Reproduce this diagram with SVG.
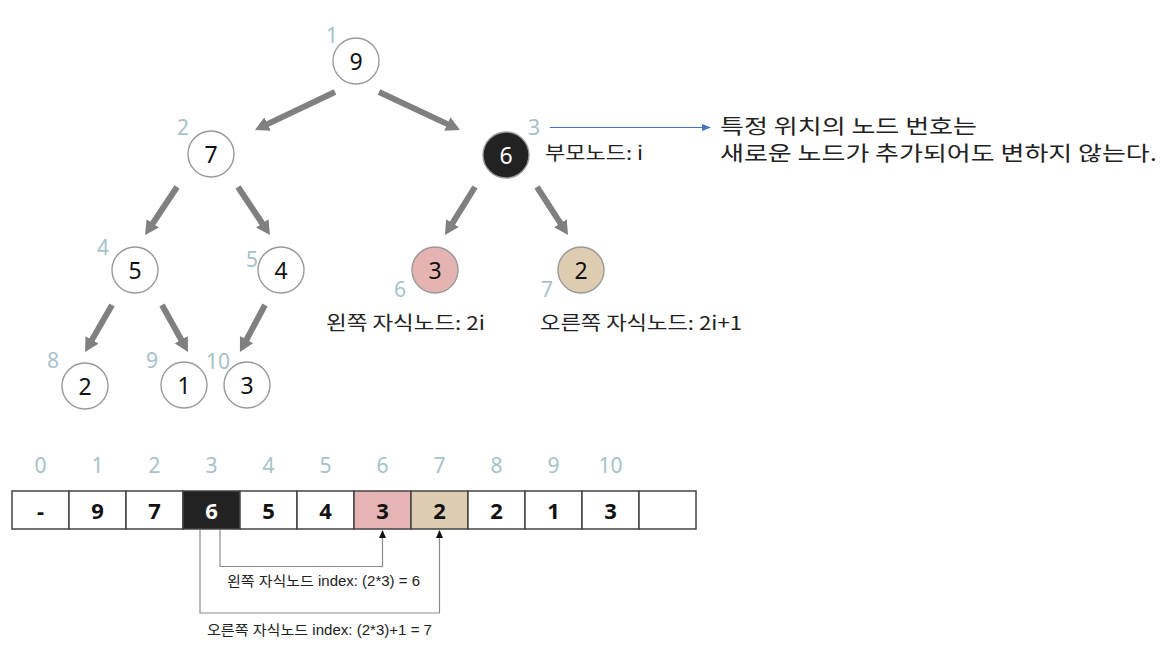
<svg xmlns="http://www.w3.org/2000/svg" width="1166" height="668" viewBox="0 0 1166 668">
<style>
.node{fill:#ffffff;stroke:#9a9a9a;stroke-width:1.4}
.nv{font-family:"Noto Sans","Open Sans",sans-serif;font-size:23px;fill:#111;text-anchor:middle}
.idx{font-family:"Noto Sans","Open Sans",sans-serif;font-size:21px;fill:#a5c3c9;text-anchor:middle}
.ko{font-family:"Noto Sans CJK KR","Noto Sans",sans-serif;fill:#222}
.sm{font-family:"Liberation Sans","Noto Sans CJK KR",sans-serif;font-size:14px;fill:#222}
.cell{fill:#ffffff;stroke:#444;stroke-width:1.5}
.cv{font-family:"Noto Sans","Open Sans",sans-serif;font-size:22px;font-weight:bold;fill:#111;text-anchor:middle}
.thick{stroke:#808080;stroke-width:6;fill:none;marker-end:url(#big)}
.thin{stroke:#8c8c8c;stroke-width:1.2;fill:none;marker-end:url(#small)}
</style>
<defs>
<marker id="big" markerUnits="userSpaceOnUse" markerWidth="15" markerHeight="15" refX="2" refY="7.5" orient="auto">
<path d="M0,0 L14,7.5 L0,15 z" fill="#808080"/>
</marker>
<marker id="small" markerUnits="userSpaceOnUse" markerWidth="8" markerHeight="8" refX="7" refY="3.5" orient="auto">
<path d="M0,0 L8,3.5 L0,7 z" fill="#111"/>
</marker>
<marker id="blue" markerUnits="userSpaceOnUse" markerWidth="9" markerHeight="8" refX="8" refY="3.5" orient="auto">
<path d="M0,0 L9,3.5 L0,7 z" fill="#4472c4"/>
</marker>
</defs>
<rect width="1166" height="668" fill="#ffffff"/>

<g id="connectors">
<line class="thick" x1="335" y1="92" x2="265.8" y2="124.9"/>
<line class="thick" x1="379" y1="92" x2="449.1" y2="124.9"/>
<line class="thick" x1="177" y1="187" x2="151.7" y2="225"/>
<line class="thick" x1="238" y1="187" x2="263.3" y2="225"/>
<line class="thick" x1="475" y1="187" x2="451.4" y2="224.8"/>
<line class="thick" x1="537" y1="187" x2="561.5" y2="224.9"/>
<line class="thick" x1="112" y1="305" x2="91" y2="341.6"/>
<line class="thick" x1="162" y1="305" x2="182.2" y2="341.5"/>
<line class="thick" x1="265" y1="305" x2="245.6" y2="341.4"/>
<line x1="550" y1="127.5" x2="710" y2="127.5" stroke="#4472c4" stroke-width="1.2" marker-end="url(#blue)"/>
<path class="thin" d="M220,530 V566.5 H382.5 V531"/>
<path class="thin" d="M200,530 V613 H439.5 V531"/>
</g>

<g id="node1"><circle class="node" cx="356" cy="61" r="23"/><text class="nv" x="356" y="69.5">9</text><text class="idx" x="332" y="43">1</text></g>
<g id="node2"><circle class="node" cx="211" cy="154" r="23"/><text class="nv" x="211" y="162.5">7</text><text class="idx" x="183" y="135">2</text></g>
<g id="node3"><circle cx="506" cy="155" r="23" fill="#222" stroke="#9a9a9a" stroke-width="1.4"/><text class="nv" x="506" y="163.5" style="fill:#fff">6</text><text class="idx" x="534" y="135">3</text></g>
<g id="node4"><circle class="node" cx="135" cy="270" r="23"/><text class="nv" x="135" y="278.5">5</text><text class="idx" x="103" y="255">4</text></g>
<g id="node5"><circle class="node" cx="281" cy="270" r="23"/><text class="nv" x="281" y="278.5">4</text><text class="idx" x="252" y="267">5</text></g>
<g id="node6"><circle cx="435" cy="270" r="23" fill="#e6b3b3" stroke="#9a9a9a" stroke-width="1.4"/><text class="nv" x="435" y="278.5">3</text><text class="idx" x="400" y="297">6</text></g>
<g id="node7"><circle cx="581" cy="270" r="23" fill="#dfcdb1" stroke="#9a9a9a" stroke-width="1.4"/><text class="nv" x="581" y="278.5">2</text><text class="idx" x="547" y="297">7</text></g>
<g id="node8"><circle class="node" cx="85" cy="386" r="23"/><text class="nv" x="85" y="394.5">2</text><text class="idx" x="53" y="368">8</text></g>
<g id="node9"><circle class="node" cx="184" cy="385" r="23"/><text class="nv" x="184" y="393.5">1</text><text class="idx" x="152" y="368">9</text></g>
<g id="node10"><circle class="node" cx="247" cy="385" r="23"/><text class="nv" x="247" y="393.5">3</text><text class="idx" x="218" y="369">10</text></g>

<g id="labels">
<text class="ko" x="545" y="160" font-size="19" textLength="98" lengthAdjust="spacingAndGlyphs">부모노드: i</text>
<text class="ko" x="326" y="330" font-size="19" textLength="159" lengthAdjust="spacingAndGlyphs">왼쪽 자식노드: 2i</text>
<text class="ko" x="540" y="330" font-size="19" textLength="202" lengthAdjust="spacingAndGlyphs">오른쪽 자식노드: 2i+1</text>
<text class="ko" x="720" y="134" font-size="20.5" textLength="257" lengthAdjust="spacingAndGlyphs">특정 위치의 노드 번호는</text>
<text class="ko" x="720" y="161" font-size="20.5" textLength="437" lengthAdjust="spacingAndGlyphs">새로운 노드가 추가되어도 변하지 않는다.</text>
<text class="sm" x="227" y="586" textLength="193" lengthAdjust="spacingAndGlyphs">왼쪽 자식노드 index: (2*3) = 6</text>
<text class="sm" x="207" y="635" textLength="225" lengthAdjust="spacingAndGlyphs">오른쪽 자식노드 index: (2*3)+1 = 7</text>
</g>

<g id="array">
<text class="idx" font-size="22" x="40.5" y="473">0</text>
<text class="idx" font-size="22" x="97.5" y="473">1</text>
<text class="idx" font-size="22" x="154.5" y="473">2</text>
<text class="idx" font-size="22" x="211.5" y="473">3</text>
<text class="idx" font-size="22" x="268.5" y="473">4</text>
<text class="idx" font-size="22" x="325.5" y="473">5</text>
<text class="idx" font-size="22" x="382.5" y="473">6</text>
<text class="idx" font-size="22" x="439.5" y="473">7</text>
<text class="idx" font-size="22" x="496.5" y="473">8</text>
<text class="idx" font-size="22" x="553.5" y="473">9</text>
<text class="idx" font-size="22" x="610.5" y="473">10</text>
<rect class="cell" x="12" y="491" width="57" height="38"/>
<rect class="cell" x="69" y="491" width="57" height="38"/>
<rect class="cell" x="126" y="491" width="57" height="38"/>
<rect x="183" y="491" width="57" height="38" fill="#222" stroke="#444" stroke-width="1.5"/>
<rect class="cell" x="240" y="491" width="57" height="38"/>
<rect class="cell" x="297" y="491" width="57" height="38"/>
<rect x="354" y="491" width="57" height="38" fill="#e6b4b4" stroke="#444" stroke-width="1.5"/>
<rect x="411" y="491" width="57" height="38" fill="#dfcdb1" stroke="#444" stroke-width="1.5"/>
<rect class="cell" x="468" y="491" width="57" height="38"/>
<rect class="cell" x="525" y="491" width="57" height="38"/>
<rect class="cell" x="582" y="491" width="57" height="38"/>
<rect class="cell" x="639" y="491" width="57" height="38"/>
<text class="cv" x="40.5" y="519">-</text>
<text class="cv" x="97.5" y="519">9</text>
<text class="cv" x="154.5" y="519">7</text>
<text class="cv" x="211.5" y="519" style="fill:#fff">6</text>
<text class="cv" x="268.5" y="519">5</text>
<text class="cv" x="325.5" y="519">4</text>
<text class="cv" x="382.5" y="519">3</text>
<text class="cv" x="439.5" y="519">2</text>
<text class="cv" x="496.5" y="519">2</text>
<text class="cv" x="553.5" y="519">1</text>
<text class="cv" x="610.5" y="519">3</text>
</g>
</svg>
